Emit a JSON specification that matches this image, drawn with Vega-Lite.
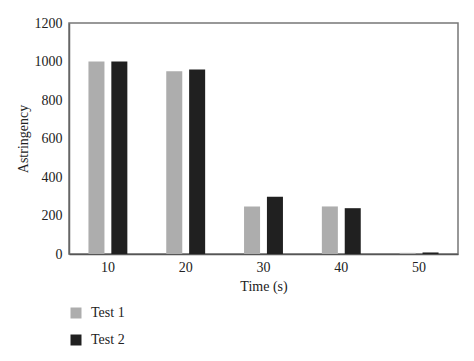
{
  "$schema": "https://vega.github.io/schema/vega-lite/v6.json",
  "autosize": "none",
  "width": 389,
  "height": 231,
  "padding": {"left": 69, "top": 23, "right": 16, "bottom": 107},
  "background": "white",
  "data": {"values": [
    {"time": "10", "test": "Test 1", "value": 1000},
    {"time": "10", "test": "Test 2", "value": 1000},
    {"time": "20", "test": "Test 1", "value": 949},
    {"time": "20", "test": "Test 2", "value": 959},
    {"time": "30", "test": "Test 1", "value": 247},
    {"time": "30", "test": "Test 2", "value": 298},
    {"time": "40", "test": "Test 1", "value": 247},
    {"time": "40", "test": "Test 2", "value": 238},
    {"time": "50", "test": "Test 1", "value": 6},
    {"time": "50", "test": "Test 2", "value": 8}
  ]},
  "config": {
    "font": "Liberation Serif",
    "view": {"stroke": "#777", "strokeWidth": 1.5}
  },
  "mark": {"type": "bar"},
  "encoding": {
    "x": {"field": "time", "type": "nominal", "title": "Time (s)", "scale": {"paddingInner": 0.5, "paddingOuter": 0.25},
      "axis": {"labelAngle": 0, "labelPadding": 6, "titlePadding": 5, "labelFont": "Liberation Serif", "titleFont": "Liberation Serif", "labelFontSize": 14, "titleFontSize": 14, "labelColor": "#222", "titleColor": "#222", "titleFontWeight": "normal", "grid": false, "ticks": false, "domainColor": "#555", "domainWidth": 1.5}},
    "xOffset": {"field": "test", "type": "nominal", "scale": {"paddingInner": 0.3}},
    "y": {"field": "value", "type": "quantitative", "title": "Astringency", "scale": {"domain": [0, 1200], "nice": false},
      "axis": {"values": [0, 200, 400, 600, 800, 1000, 1200], "format": "d", "labelPadding": 7, "titlePadding": 4, "labelFont": "Liberation Serif", "titleFont": "Liberation Serif", "labelFontSize": 14, "titleFontSize": 14, "labelColor": "#222", "titleColor": "#222", "titleFontWeight": "normal", "grid": false, "ticks": false, "domainColor": "#666", "domainWidth": 1.5}},
    "color": {"field": "test", "type": "nominal", "scale": {"domain": ["Test 1", "Test 2"], "range": ["#adadad", "#202020"]},
      "legend": {"title": null, "orient": "none", "legendX": 0, "legendY": 283, "symbolType": "square", "symbolSize": 121, "symbolStrokeWidth": 0, "labelFont": "Liberation Serif", "labelFontSize": 14, "labelColor": "#222", "rowPadding": 13, "labelOffset": 8}}
  }
}
